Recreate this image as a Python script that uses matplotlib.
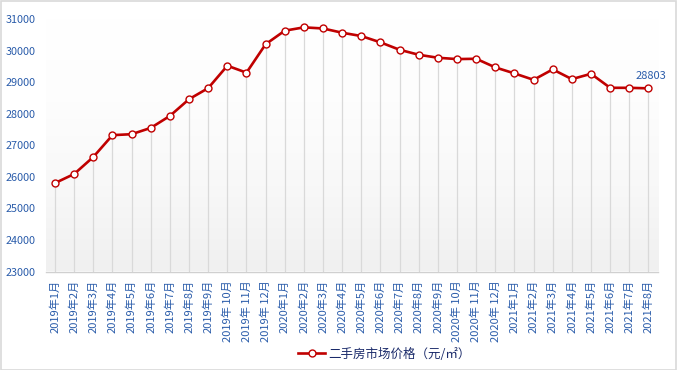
import matplotlib
matplotlib.use("Agg")
import matplotlib.pyplot as plt
import numpy as np
from matplotlib.patches import Rectangle
from matplotlib.colors import LinearSegmentedColormap

plt.rcParams['font.family'] = ['Noto Sans CJK SC', 'DejaVu Sans']

months = ["2019年1月", "2019年2月", "2019年3月", "2019年4月", "2019年5月", "2019年6月",
          "2019年7月", "2019年8月", "2019年9月", "2019年 10月", "2019年 11月", "2019年 12月",
          "2020年1月", "2020年2月", "2020年3月", "2020年4月", "2020年5月", "2020年6月",
          "2020年7月", "2020年8月", "2020年9月", "2020年 10月", "2020年 11月", "2020年 12月",
          "2021年1月", "2021年2月", "2021年3月", "2021年4月", "2021年5月", "2021年6月",
          "2021年7月", "2021年8月"]
prices = [25803, 26090, 26630, 27320, 27350, 27550, 27930, 28460, 28810, 29520, 29300, 30200,
          30630, 30735, 30700, 30565, 30460, 30260, 30025, 29867, 29772, 29730, 29740, 29467,
          29276, 29073, 29403, 29095, 29264, 28820, 28820, 28803]
yticks = [23000, 24000, 25000, 26000, 27000, 28000, 29000, 30000, 31000]
series_name = "二手房市场价格（元/㎡）"

W, H = 677, 370
fig = plt.figure(figsize=(W / 100, H / 100), dpi=100)
fig.patch.set_facecolor("white")
ax = fig.add_axes([45.5 / W, 1 - 271.5 / H, (658 - 45.5) / W, (271.5 - 19) / H])

x = np.arange(len(prices))
n = len(prices)

# gradient background: white at top, light gray at bottom
grad = np.linspace(0, 1, 256).reshape(-1, 1)
cmap = LinearSegmentedColormap.from_list("g", ["#ffffff", "#fdfdfd", "#f8f8f8", "#f0f0f0"])
ax.imshow(grad, aspect="auto", cmap=cmap, extent=(-0.5, n - 0.5, 23000, 31000),
          origin="upper", zorder=0, interpolation="bilinear")
ax.set_xlim(-0.5, n - 0.5)
ax.set_ylim(23000, 31000)

ax.vlines(x, 23000, prices, colors="#d9d9d9", linewidth=0.9, zorder=1)
line, = ax.plot(x, prices, color="#c00000", linewidth=1.9, marker="o", markersize=5,
                markerfacecolor="white", markeredgecolor="#c00000", markeredgewidth=1.0,
                zorder=3, label=series_name)

ax.annotate(f"{prices[-1]}", (x[-1], prices[-1]), xytext=(2, 5), textcoords="offset points",
            ha="center", va="bottom", fontsize=8, color="#2a5caa")

for s in ["top", "right", "left"]:
    ax.spines[s].set_visible(False)
ax.spines["bottom"].set_color("#d0d0d0")
ax.spines["bottom"].set_linewidth(1)

ax.set_yticks(yticks)
ax.set_yticklabels([str(v) for v in yticks], fontsize=7.8, color="#2a5caa")
ax.tick_params(axis="y", length=0, pad=7)
ax.set_xticks(x)
ax.set_xticklabels(months, rotation=90, fontsize=8, color="#2a5caa")
ax.tick_params(axis="x", length=0, pad=6)

leg = fig.legend(handles=[line], loc="center", bbox_to_anchor=(384 / W, 1 - 354 / H),
                 frameon=False, fontsize=9, handlelength=2.2, handletextpad=0.2)
for t in leg.get_texts():
    t.set_color("#1a2a6a")

fig.patches.append(Rectangle((0.5 / W, 0.5 / H), 1 - 1.5 / W, 1 - 1.5 / H, transform=fig.transFigure,
                             fill=False, edgecolor="#d9d9d9", linewidth=1.2))

fig.savefig("out.png", dpi=100)
